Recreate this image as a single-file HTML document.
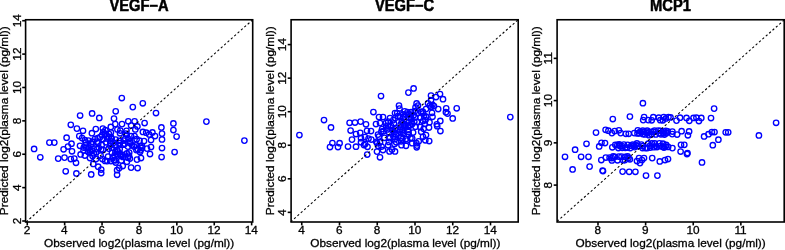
<!DOCTYPE html>
<html><head><meta charset="utf-8"><title>Predicted vs observed plasma levels</title>
<style>html,body{margin:0;padding:0;background:#fff}svg{display:block}text{font-family:"Liberation Sans",Arial,Helvetica,sans-serif;fill:#000;stroke:#000;stroke-width:0.3px}.t{font-size:14.7px;font-weight:bold;text-anchor:middle;stroke-width:0.5px}.l{font-size:11.8px;text-anchor:middle}.m{font-size:11.8px;text-anchor:middle}.k{font-size:11.8px;text-anchor:middle}.b{fill:none;stroke:#000;stroke-width:1.6}.d{stroke:#000;stroke-width:1.05;stroke-dasharray:2.25 2.25}.p circle{fill:none;stroke:#0000ff;stroke-width:1.35}</style></head><body>
<svg width="785" height="250" viewBox="0 0 785 250">
<rect width="785" height="250" fill="#fff"/>
<g>
<g class="p">
<circle cx="121.8" cy="98.0" r="2.7"/>
<circle cx="132.8" cy="107.1" r="2.7"/>
<circle cx="115.7" cy="111.3" r="2.7"/>
<circle cx="92.1" cy="113.4" r="2.7"/>
<circle cx="80.1" cy="115.5" r="2.7"/>
<circle cx="99.3" cy="117.9" r="2.7"/>
<circle cx="114.0" cy="118.6" r="2.7"/>
<circle cx="70.8" cy="124.8" r="2.7"/>
<circle cx="76.9" cy="128.6" r="2.7"/>
<circle cx="83.0" cy="130.8" r="2.7"/>
<circle cx="66.6" cy="137.7" r="2.7"/>
<circle cx="49.4" cy="142.6" r="2.7"/>
<circle cx="54.3" cy="142.6" r="2.7"/>
<circle cx="34.1" cy="148.9" r="2.7"/>
<circle cx="79.3" cy="136.0" r="2.7"/>
<circle cx="82.1" cy="138.1" r="2.7"/>
<circle cx="84.9" cy="140.2" r="2.7"/>
<circle cx="71.5" cy="143.7" r="2.7"/>
<circle cx="68.0" cy="146.5" r="2.7"/>
<circle cx="63.6" cy="149.3" r="2.7"/>
<circle cx="80.0" cy="145.8" r="2.7"/>
<circle cx="86.3" cy="147.9" r="2.7"/>
<circle cx="95.8" cy="129.0" r="2.7"/>
<circle cx="102.8" cy="128.6" r="2.7"/>
<circle cx="110.8" cy="126.9" r="2.7"/>
<circle cx="115.3" cy="124.1" r="2.7"/>
<circle cx="122.0" cy="124.1" r="2.7"/>
<circle cx="128.3" cy="121.3" r="2.7"/>
<circle cx="131.1" cy="125.5" r="2.7"/>
<circle cx="134.6" cy="121.3" r="2.7"/>
<circle cx="91.9" cy="133.2" r="2.7"/>
<circle cx="206.4" cy="121.6" r="2.7"/>
<circle cx="244.4" cy="140.6" r="2.7"/>
<circle cx="40.3" cy="157.3" r="2.7"/>
<circle cx="58.2" cy="158.6" r="2.7"/>
<circle cx="64.5" cy="157.6" r="2.7"/>
<circle cx="72.0" cy="151.3" r="2.7"/>
<circle cx="70.8" cy="159.0" r="2.7"/>
<circle cx="74.3" cy="158.6" r="2.7"/>
<circle cx="76.0" cy="162.8" r="2.7"/>
<circle cx="65.7" cy="171.3" r="2.7"/>
<circle cx="76.4" cy="173.4" r="2.7"/>
<circle cx="91.2" cy="174.4" r="2.7"/>
<circle cx="101.2" cy="169.5" r="2.7"/>
<circle cx="101.2" cy="173.0" r="2.7"/>
<circle cx="98.2" cy="166.7" r="2.7"/>
<circle cx="117.1" cy="174.8" r="2.7"/>
<circle cx="117.1" cy="170.2" r="2.7"/>
<circle cx="80.6" cy="154.4" r="2.7"/>
<circle cx="84.9" cy="155.5" r="2.7"/>
<circle cx="83.5" cy="150.6" r="2.7"/>
<circle cx="93.3" cy="163.9" r="2.7"/>
<circle cx="102.4" cy="159.0" r="2.7"/>
<circle cx="107.3" cy="161.1" r="2.7"/>
<circle cx="115.7" cy="162.5" r="2.7"/>
<circle cx="121.3" cy="160.4" r="2.7"/>
<circle cx="122.7" cy="166.0" r="2.7"/>
<circle cx="126.9" cy="161.8" r="2.7"/>
<circle cx="131.1" cy="167.6" r="2.7"/>
<circle cx="119.2" cy="168.1" r="2.7"/>
<circle cx="122.7" cy="154.8" r="2.7"/>
<circle cx="144.6" cy="123.0" r="2.7"/>
<circle cx="137.4" cy="126.4" r="2.7"/>
<circle cx="135.3" cy="129.4" r="2.7"/>
<circle cx="142.9" cy="131.9" r="2.7"/>
<circle cx="146.2" cy="132.7" r="2.7"/>
<circle cx="149.2" cy="134.4" r="2.7"/>
<circle cx="134.5" cy="136.1" r="2.7"/>
<circle cx="131.1" cy="136.1" r="2.7"/>
<circle cx="142.8" cy="103.3" r="2.7"/>
<circle cx="156.0" cy="113.0" r="2.7"/>
<circle cx="173.4" cy="123.4" r="2.7"/>
<circle cx="173.4" cy="130.0" r="2.7"/>
<circle cx="176.6" cy="136.6" r="2.7"/>
<circle cx="161.4" cy="127.4" r="2.7"/>
<circle cx="162.0" cy="133.6" r="2.7"/>
<circle cx="162.0" cy="139.4" r="2.7"/>
<circle cx="162.0" cy="148.0" r="2.7"/>
<circle cx="174.6" cy="152.0" r="2.7"/>
<circle cx="152.4" cy="132.4" r="2.7"/>
<circle cx="155.0" cy="136.0" r="2.7"/>
<circle cx="151.0" cy="140.0" r="2.7"/>
<circle cx="144.0" cy="141.0" r="2.7"/>
<circle cx="151.0" cy="147.0" r="2.7"/>
<circle cx="147.0" cy="148.6" r="2.7"/>
<circle cx="150.0" cy="154.0" r="2.7"/>
<circle cx="161.6" cy="157.0" r="2.7"/>
<circle cx="141.0" cy="158.0" r="2.7"/>
<circle cx="137.0" cy="159.6" r="2.7"/>
<circle cx="137.6" cy="168.0" r="2.7"/>
<circle cx="90.0" cy="158.0" r="2.7"/>
<circle cx="96.0" cy="159.0" r="2.7"/>
<circle cx="114.0" cy="160.0" r="2.7"/>
<circle cx="129.0" cy="155.6" r="2.7"/>
<circle cx="140.0" cy="152.0" r="2.7"/>
<circle cx="142.0" cy="148.0" r="2.7"/>
<circle cx="120.4" cy="154.2" r="2.7"/>
<circle cx="110.9" cy="161.1" r="2.7"/>
<circle cx="111.1" cy="137.4" r="2.7"/>
<circle cx="117.4" cy="129.4" r="2.7"/>
<circle cx="92.6" cy="156.1" r="2.7"/>
<circle cx="120.0" cy="133.3" r="2.7"/>
<circle cx="115.4" cy="152.0" r="2.7"/>
<circle cx="136.6" cy="139.2" r="2.7"/>
<circle cx="101.1" cy="149.5" r="2.7"/>
<circle cx="123.7" cy="140.5" r="2.7"/>
<circle cx="132.1" cy="145.3" r="2.7"/>
<circle cx="111.9" cy="153.0" r="2.7"/>
<circle cx="128.0" cy="157.7" r="2.7"/>
<circle cx="130.3" cy="141.5" r="2.7"/>
<circle cx="139.5" cy="140.7" r="2.7"/>
<circle cx="114.5" cy="155.4" r="2.7"/>
<circle cx="88.5" cy="140.6" r="2.7"/>
<circle cx="115.7" cy="139.6" r="2.7"/>
<circle cx="97.2" cy="149.2" r="2.7"/>
<circle cx="110.3" cy="143.3" r="2.7"/>
<circle cx="112.6" cy="157.5" r="2.7"/>
<circle cx="120.8" cy="155.8" r="2.7"/>
<circle cx="109.1" cy="134.1" r="2.7"/>
<circle cx="110.2" cy="145.6" r="2.7"/>
<circle cx="111.7" cy="138.9" r="2.7"/>
<circle cx="140.6" cy="150.3" r="2.7"/>
<circle cx="103.3" cy="132.0" r="2.7"/>
<circle cx="129.9" cy="158.5" r="2.7"/>
<circle cx="125.3" cy="138.5" r="2.7"/>
<circle cx="129.2" cy="152.5" r="2.7"/>
<circle cx="83.7" cy="147.6" r="2.7"/>
<circle cx="123.3" cy="144.7" r="2.7"/>
<circle cx="140.4" cy="146.6" r="2.7"/>
<circle cx="126.8" cy="134.8" r="2.7"/>
<circle cx="117.9" cy="151.6" r="2.7"/>
<circle cx="92.6" cy="144.0" r="2.7"/>
<circle cx="96.1" cy="152.3" r="2.7"/>
<circle cx="85.5" cy="145.0" r="2.7"/>
<circle cx="102.0" cy="135.2" r="2.7"/>
<circle cx="119.7" cy="149.1" r="2.7"/>
<circle cx="107.3" cy="138.5" r="2.7"/>
<circle cx="105.4" cy="130.2" r="2.7"/>
<circle cx="88.7" cy="147.5" r="2.7"/>
<circle cx="108.1" cy="156.6" r="2.7"/>
<circle cx="105.2" cy="133.8" r="2.7"/>
<circle cx="119.5" cy="140.9" r="2.7"/>
<circle cx="116.9" cy="149.9" r="2.7"/>
<circle cx="108.9" cy="136.7" r="2.7"/>
<circle cx="137.8" cy="149.3" r="2.7"/>
<circle cx="141.9" cy="145.9" r="2.7"/>
<circle cx="90.3" cy="150.1" r="2.7"/>
<circle cx="100.6" cy="155.6" r="2.7"/>
<circle cx="97.7" cy="138.1" r="2.7"/>
<circle cx="119.5" cy="145.1" r="2.7"/>
<circle cx="128.6" cy="139.2" r="2.7"/>
<circle cx="103.2" cy="139.1" r="2.7"/>
<circle cx="110.9" cy="141.3" r="2.7"/>
<circle cx="108.7" cy="148.6" r="2.7"/>
<circle cx="106.1" cy="142.3" r="2.7"/>
<circle cx="94.8" cy="139.1" r="2.7"/>
<circle cx="124.7" cy="143.7" r="2.7"/>
<circle cx="111.7" cy="147.7" r="2.7"/>
<circle cx="125.7" cy="133.6" r="2.7"/>
<circle cx="119.6" cy="143.1" r="2.7"/>
<circle cx="120.3" cy="130.5" r="2.7"/>
<circle cx="117.5" cy="154.2" r="2.7"/>
<circle cx="91.1" cy="143.7" r="2.7"/>
<circle cx="92.1" cy="150.5" r="2.7"/>
<circle cx="98.8" cy="147.8" r="2.7"/>
<circle cx="128.0" cy="146.6" r="2.7"/>
<circle cx="97.1" cy="141.6" r="2.7"/>
<circle cx="93.8" cy="153.3" r="2.7"/>
<circle cx="88.1" cy="151.7" r="2.7"/>
<circle cx="135.6" cy="145.3" r="2.7"/>
<circle cx="126.5" cy="130.8" r="2.7"/>
<circle cx="122.9" cy="156.9" r="2.7"/>
<circle cx="103.0" cy="149.9" r="2.7"/>
<circle cx="134.1" cy="146.6" r="2.7"/>
<circle cx="136.4" cy="150.1" r="2.7"/>
<circle cx="110.9" cy="132.4" r="2.7"/>
<circle cx="92.5" cy="141.7" r="2.7"/>
<circle cx="100.2" cy="137.0" r="2.7"/>
<circle cx="105.1" cy="160.9" r="2.7"/>
<circle cx="90.1" cy="151.7" r="2.7"/>
<circle cx="101.7" cy="144.9" r="2.7"/>
<circle cx="126.9" cy="153.4" r="2.7"/>
<circle cx="129.8" cy="142.9" r="2.7"/>
<circle cx="86.0" cy="142.5" r="2.7"/>
<circle cx="98.3" cy="142.9" r="2.7"/>
<circle cx="113.5" cy="142.7" r="2.7"/>
<circle cx="115.5" cy="160.3" r="2.7"/>
<circle cx="115.4" cy="145.5" r="2.7"/>
</g>
<line class="d" x1="26.13" y1="222.00" x2="252.70" y2="19.78"/>
<rect class="b" x="25.60" y="19.75" width="227.10" height="202.25"/>
<line class="b" x1="27.25" y1="222.00" x2="27.25" y2="225.40"/>
<line class="b" x1="25.60" y1="221.00" x2="22.20" y2="221.00"/>
<text class="k" x="26.95" y="234.40">2</text>
<text class="k" transform="translate(20.90 221.00) rotate(-90)">2</text>
<line class="b" x1="64.65" y1="222.00" x2="64.65" y2="225.40"/>
<line class="b" x1="25.60" y1="187.62" x2="22.20" y2="187.62"/>
<text class="k" x="64.35" y="234.40">4</text>
<text class="k" transform="translate(20.90 187.62) rotate(-90)">4</text>
<line class="b" x1="102.05" y1="222.00" x2="102.05" y2="225.40"/>
<line class="b" x1="25.60" y1="154.24" x2="22.20" y2="154.24"/>
<text class="k" x="101.75" y="234.40">6</text>
<text class="k" transform="translate(20.90 154.24) rotate(-90)">6</text>
<line class="b" x1="139.45" y1="222.00" x2="139.45" y2="225.40"/>
<line class="b" x1="25.60" y1="120.86" x2="22.20" y2="120.86"/>
<text class="k" x="139.15" y="234.40">8</text>
<text class="k" transform="translate(20.90 120.86) rotate(-90)">8</text>
<line class="b" x1="176.85" y1="222.00" x2="176.85" y2="225.40"/>
<line class="b" x1="25.60" y1="87.48" x2="22.20" y2="87.48"/>
<text class="k" x="176.55" y="234.40">10</text>
<text class="k" transform="translate(20.90 87.48) rotate(-90)">10</text>
<line class="b" x1="214.25" y1="222.00" x2="214.25" y2="225.40"/>
<line class="b" x1="25.60" y1="54.10" x2="22.20" y2="54.10"/>
<text class="k" x="213.95" y="234.40">12</text>
<text class="k" transform="translate(20.90 54.10) rotate(-90)">12</text>
<line class="b" x1="251.65" y1="222.00" x2="251.65" y2="225.40"/>
<line class="b" x1="25.60" y1="20.72" x2="22.20" y2="20.72"/>
<text class="k" x="251.35" y="234.40">14</text>
<text class="k" transform="translate(20.90 20.72) rotate(-90)">14</text>
<text class="t" transform="translate(138.95 10.70) scale(1 1.06)">VEGF−A</text>
<text class="l" x="139.15" y="246.90">Observed log2(plasma level (pg/ml))</text>
<text class="m" transform="translate(8.30 120.75) rotate(-90)">Predicted log2(plasma level (pg/ml))</text>
</g>
<g>
<g class="p">
<circle cx="413.6" cy="88.4" r="2.7"/>
<circle cx="408.4" cy="92.6" r="2.7"/>
<circle cx="381.0" cy="96.0" r="2.7"/>
<circle cx="431.0" cy="95.6" r="2.7"/>
<circle cx="440.0" cy="94.0" r="2.7"/>
<circle cx="436.0" cy="97.0" r="2.7"/>
<circle cx="443.0" cy="99.2" r="2.7"/>
<circle cx="431.0" cy="100.2" r="2.7"/>
<circle cx="416.6" cy="103.4" r="2.7"/>
<circle cx="418.0" cy="105.6" r="2.7"/>
<circle cx="415.5" cy="107.3" r="2.7"/>
<circle cx="399.0" cy="105.6" r="2.7"/>
<circle cx="399.5" cy="108.5" r="2.7"/>
<circle cx="428.0" cy="103.3" r="2.7"/>
<circle cx="432.5" cy="104.8" r="2.7"/>
<circle cx="429.8" cy="105.5" r="2.7"/>
<circle cx="434.0" cy="106.0" r="2.7"/>
<circle cx="426.0" cy="109.0" r="2.7"/>
<circle cx="438.2" cy="109.0" r="2.7"/>
<circle cx="446.2" cy="108.3" r="2.7"/>
<circle cx="447.5" cy="113.6" r="2.7"/>
<circle cx="373.4" cy="112.0" r="2.7"/>
<circle cx="379.0" cy="117.0" r="2.7"/>
<circle cx="383.0" cy="117.0" r="2.7"/>
<circle cx="324.0" cy="120.0" r="2.7"/>
<circle cx="331.0" cy="127.4" r="2.7"/>
<circle cx="349.6" cy="122.8" r="2.7"/>
<circle cx="355.0" cy="122.5" r="2.7"/>
<circle cx="360.6" cy="121.6" r="2.7"/>
<circle cx="366.0" cy="124.3" r="2.7"/>
<circle cx="376.0" cy="124.0" r="2.7"/>
<circle cx="380.0" cy="123.0" r="2.7"/>
<circle cx="386.0" cy="123.0" r="2.7"/>
<circle cx="390.0" cy="118.0" r="2.7"/>
<circle cx="395.0" cy="113.0" r="2.7"/>
<circle cx="397.2" cy="113.0" r="2.7"/>
<circle cx="400.0" cy="117.0" r="2.7"/>
<circle cx="404.7" cy="111.3" r="2.7"/>
<circle cx="407.5" cy="112.0" r="2.7"/>
<circle cx="406.0" cy="114.5" r="2.7"/>
<circle cx="411.0" cy="118.5" r="2.7"/>
<circle cx="415.0" cy="117.2" r="2.7"/>
<circle cx="421.0" cy="111.8" r="2.7"/>
<circle cx="423.0" cy="113.4" r="2.7"/>
<circle cx="432.0" cy="112.8" r="2.7"/>
<circle cx="432.5" cy="116.8" r="2.7"/>
<circle cx="423.0" cy="121.0" r="2.7"/>
<circle cx="429.5" cy="122.2" r="2.7"/>
<circle cx="440.3" cy="120.9" r="2.7"/>
<circle cx="417.0" cy="122.0" r="2.7"/>
<circle cx="409.0" cy="122.0" r="2.7"/>
<circle cx="456.7" cy="108.3" r="2.7"/>
<circle cx="445.9" cy="112.2" r="2.7"/>
<circle cx="452.7" cy="118.4" r="2.7"/>
<circle cx="393.3" cy="120.1" r="2.7"/>
<circle cx="394.0" cy="123.6" r="2.7"/>
<circle cx="414.3" cy="121.5" r="2.7"/>
<circle cx="425.5" cy="120.1" r="2.7"/>
<circle cx="436.8" cy="124.3" r="2.7"/>
<circle cx="424.1" cy="115.9" r="2.7"/>
<circle cx="417.8" cy="113.1" r="2.7"/>
<circle cx="431.2" cy="106.9" r="2.7"/>
<circle cx="422.8" cy="111.6" r="2.7"/>
<circle cx="299.4" cy="135.0" r="2.7"/>
<circle cx="350.6" cy="130.5" r="2.7"/>
<circle cx="356.0" cy="134.0" r="2.7"/>
<circle cx="360.2" cy="132.8" r="2.7"/>
<circle cx="367.0" cy="130.8" r="2.7"/>
<circle cx="352.0" cy="139.6" r="2.7"/>
<circle cx="332.4" cy="143.0" r="2.7"/>
<circle cx="339.6" cy="143.2" r="2.7"/>
<circle cx="330.0" cy="147.0" r="2.7"/>
<circle cx="338.0" cy="147.0" r="2.7"/>
<circle cx="348.0" cy="146.5" r="2.7"/>
<circle cx="356.0" cy="146.7" r="2.7"/>
<circle cx="361.0" cy="142.2" r="2.7"/>
<circle cx="364.0" cy="145.0" r="2.7"/>
<circle cx="367.5" cy="146.8" r="2.7"/>
<circle cx="367.2" cy="154.5" r="2.7"/>
<circle cx="380.0" cy="157.3" r="2.7"/>
<circle cx="377.0" cy="151.6" r="2.7"/>
<circle cx="383.0" cy="150.0" r="2.7"/>
<circle cx="389.5" cy="151.4" r="2.7"/>
<circle cx="395.0" cy="151.4" r="2.7"/>
<circle cx="392.0" cy="149.6" r="2.7"/>
<circle cx="378.3" cy="146.0" r="2.7"/>
<circle cx="394.5" cy="144.0" r="2.7"/>
<circle cx="401.5" cy="145.2" r="2.7"/>
<circle cx="406.0" cy="145.8" r="2.7"/>
<circle cx="412.2" cy="143.2" r="2.7"/>
<circle cx="416.7" cy="147.3" r="2.7"/>
<circle cx="418.7" cy="141.3" r="2.7"/>
<circle cx="425.3" cy="140.3" r="2.7"/>
<circle cx="429.2" cy="141.0" r="2.7"/>
<circle cx="423.0" cy="136.8" r="2.7"/>
<circle cx="426.0" cy="135.0" r="2.7"/>
<circle cx="440.4" cy="131.0" r="2.7"/>
<circle cx="437.2" cy="126.2" r="2.7"/>
<circle cx="429.0" cy="127.5" r="2.7"/>
<circle cx="365.0" cy="137.0" r="2.7"/>
<circle cx="368.5" cy="138.6" r="2.7"/>
<circle cx="371.3" cy="139.5" r="2.7"/>
<circle cx="361.0" cy="138.2" r="2.7"/>
<circle cx="371.0" cy="131.0" r="2.7"/>
<circle cx="365.2" cy="143.9" r="2.7"/>
<circle cx="377.1" cy="143.2" r="2.7"/>
<circle cx="412.2" cy="138.3" r="2.7"/>
<circle cx="405.9" cy="139.0" r="2.7"/>
<circle cx="416.4" cy="143.2" r="2.7"/>
<circle cx="510.3" cy="117.1" r="2.7"/>
<circle cx="417.0" cy="145.6" r="2.7"/>
<circle cx="388.0" cy="125.5" r="2.7"/>
<circle cx="380.0" cy="142.2" r="2.7"/>
<circle cx="402.4" cy="139.2" r="2.7"/>
<circle cx="404.7" cy="124.2" r="2.7"/>
<circle cx="386.1" cy="126.3" r="2.7"/>
<circle cx="396.2" cy="142.3" r="2.7"/>
<circle cx="408.2" cy="130.1" r="2.7"/>
<circle cx="388.9" cy="141.9" r="2.7"/>
<circle cx="393.4" cy="136.4" r="2.7"/>
<circle cx="389.5" cy="138.2" r="2.7"/>
<circle cx="424.8" cy="123.8" r="2.7"/>
<circle cx="401.1" cy="137.7" r="2.7"/>
<circle cx="395.2" cy="118.0" r="2.7"/>
<circle cx="394.8" cy="139.2" r="2.7"/>
<circle cx="405.6" cy="125.6" r="2.7"/>
<circle cx="381.6" cy="146.6" r="2.7"/>
<circle cx="389.1" cy="132.4" r="2.7"/>
<circle cx="376.3" cy="141.8" r="2.7"/>
<circle cx="411.1" cy="112.2" r="2.7"/>
<circle cx="401.2" cy="141.3" r="2.7"/>
<circle cx="400.0" cy="131.7" r="2.7"/>
<circle cx="423.7" cy="128.8" r="2.7"/>
<circle cx="395.6" cy="128.0" r="2.7"/>
<circle cx="381.4" cy="131.7" r="2.7"/>
<circle cx="402.4" cy="131.6" r="2.7"/>
<circle cx="396.0" cy="134.4" r="2.7"/>
<circle cx="412.2" cy="123.9" r="2.7"/>
<circle cx="395.0" cy="129.6" r="2.7"/>
<circle cx="403.2" cy="114.4" r="2.7"/>
<circle cx="382.1" cy="129.1" r="2.7"/>
<circle cx="403.3" cy="117.1" r="2.7"/>
<circle cx="392.1" cy="130.1" r="2.7"/>
<circle cx="400.0" cy="129.6" r="2.7"/>
<circle cx="378.9" cy="136.6" r="2.7"/>
<circle cx="414.8" cy="111.2" r="2.7"/>
<circle cx="426.1" cy="116.7" r="2.7"/>
<circle cx="397.9" cy="116.1" r="2.7"/>
<circle cx="409.1" cy="117.5" r="2.7"/>
<circle cx="388.1" cy="145.3" r="2.7"/>
<circle cx="411.0" cy="115.4" r="2.7"/>
<circle cx="388.1" cy="121.6" r="2.7"/>
<circle cx="387.2" cy="129.4" r="2.7"/>
<circle cx="391.1" cy="126.0" r="2.7"/>
<circle cx="403.0" cy="133.3" r="2.7"/>
<circle cx="420.2" cy="127.0" r="2.7"/>
<circle cx="409.4" cy="114.4" r="2.7"/>
<circle cx="410.2" cy="125.3" r="2.7"/>
<circle cx="383.5" cy="131.2" r="2.7"/>
<circle cx="393.7" cy="132.2" r="2.7"/>
<circle cx="402.5" cy="129.7" r="2.7"/>
<circle cx="384.4" cy="137.8" r="2.7"/>
<circle cx="402.6" cy="123.1" r="2.7"/>
<circle cx="408.7" cy="134.4" r="2.7"/>
<circle cx="401.8" cy="121.1" r="2.7"/>
<circle cx="421.2" cy="131.7" r="2.7"/>
<circle cx="408.0" cy="125.9" r="2.7"/>
<circle cx="411.5" cy="122.3" r="2.7"/>
<circle cx="406.8" cy="140.5" r="2.7"/>
<circle cx="415.5" cy="126.7" r="2.7"/>
<circle cx="400.7" cy="124.6" r="2.7"/>
<circle cx="404.0" cy="126.0" r="2.7"/>
<circle cx="394.8" cy="136.9" r="2.7"/>
<circle cx="378.0" cy="134.6" r="2.7"/>
<circle cx="413.6" cy="115.3" r="2.7"/>
<circle cx="408.4" cy="131.9" r="2.7"/>
<circle cx="413.1" cy="132.5" r="2.7"/>
<circle cx="420.5" cy="117.4" r="2.7"/>
<circle cx="410.5" cy="138.0" r="2.7"/>
</g>
<line class="d" x1="290.70" y1="221.82" x2="517.80" y2="19.98"/>
<rect class="b" x="291.10" y="19.75" width="227.10" height="202.25"/>
<line class="b" x1="301.75" y1="222.00" x2="301.75" y2="225.40"/>
<line class="b" x1="291.10" y1="212.35" x2="287.70" y2="212.35"/>
<text class="k" x="301.45" y="234.40">4</text>
<text class="k" transform="translate(286.40 212.35) rotate(-90)">4</text>
<line class="b" x1="339.50" y1="222.00" x2="339.50" y2="225.40"/>
<line class="b" x1="291.10" y1="178.80" x2="287.70" y2="178.80"/>
<text class="k" x="339.20" y="234.40">6</text>
<text class="k" transform="translate(286.40 178.80) rotate(-90)">6</text>
<line class="b" x1="377.25" y1="222.00" x2="377.25" y2="225.40"/>
<line class="b" x1="291.10" y1="145.25" x2="287.70" y2="145.25"/>
<text class="k" x="376.95" y="234.40">8</text>
<text class="k" transform="translate(286.40 145.25) rotate(-90)">8</text>
<line class="b" x1="415.00" y1="222.00" x2="415.00" y2="225.40"/>
<line class="b" x1="291.10" y1="111.70" x2="287.70" y2="111.70"/>
<text class="k" x="414.70" y="234.40">10</text>
<text class="k" transform="translate(286.40 111.70) rotate(-90)">10</text>
<line class="b" x1="452.75" y1="222.00" x2="452.75" y2="225.40"/>
<line class="b" x1="291.10" y1="78.15" x2="287.70" y2="78.15"/>
<text class="k" x="452.45" y="234.40">12</text>
<text class="k" transform="translate(286.40 78.15) rotate(-90)">12</text>
<line class="b" x1="490.50" y1="222.00" x2="490.50" y2="225.40"/>
<line class="b" x1="291.10" y1="44.60" x2="287.70" y2="44.60"/>
<text class="k" x="490.20" y="234.40">14</text>
<text class="k" transform="translate(286.40 44.60) rotate(-90)">14</text>
<text class="t" transform="translate(404.45 10.70) scale(1 1.06)">VEGF−C</text>
<text class="l" x="405.35" y="246.90">Observed log2(plasma level (pg/ml))</text>
<text class="m" transform="translate(273.80 120.75) rotate(-90)">Predicted log2(plasma level (pg/ml))</text>
</g>
<g>
<g class="p">
<circle cx="642.9" cy="103.2" r="2.7"/>
<circle cx="629.9" cy="116.6" r="2.7"/>
<circle cx="612.8" cy="119.0" r="2.7"/>
<circle cx="714.1" cy="108.6" r="2.7"/>
<circle cx="711.0" cy="118.0" r="2.7"/>
<circle cx="776.1" cy="122.8" r="2.7"/>
<circle cx="644.1" cy="117.0" r="2.7"/>
<circle cx="643.2" cy="120.1" r="2.7"/>
<circle cx="648.3" cy="120.1" r="2.7"/>
<circle cx="653.3" cy="117.2" r="2.7"/>
<circle cx="651.7" cy="120.3" r="2.7"/>
<circle cx="658.8" cy="117.7" r="2.7"/>
<circle cx="660.3" cy="120.2" r="2.7"/>
<circle cx="663.8" cy="117.1" r="2.7"/>
<circle cx="662.9" cy="120.3" r="2.7"/>
<circle cx="665.9" cy="118.4" r="2.7"/>
<circle cx="668.5" cy="117.1" r="2.7"/>
<circle cx="670.5" cy="117.4" r="2.7"/>
<circle cx="676.5" cy="120.6" r="2.7"/>
<circle cx="680.0" cy="117.7" r="2.7"/>
<circle cx="686.5" cy="117.9" r="2.7"/>
<circle cx="689.3" cy="120.8" r="2.7"/>
<circle cx="693.5" cy="117.9" r="2.7"/>
<circle cx="696.4" cy="117.7" r="2.7"/>
<circle cx="698.9" cy="121.0" r="2.7"/>
<circle cx="701.3" cy="117.9" r="2.7"/>
<circle cx="596.0" cy="132.6" r="2.7"/>
<circle cx="605.6" cy="129.8" r="2.7"/>
<circle cx="608.4" cy="130.7" r="2.7"/>
<circle cx="611.9" cy="133.1" r="2.7"/>
<circle cx="614.7" cy="131.0" r="2.7"/>
<circle cx="618.9" cy="130.3" r="2.7"/>
<circle cx="620.7" cy="133.1" r="2.7"/>
<circle cx="625.9" cy="133.8" r="2.7"/>
<circle cx="628.7" cy="133.8" r="2.7"/>
<circle cx="634.3" cy="133.1" r="2.7"/>
<circle cx="637.8" cy="130.3" r="2.7"/>
<circle cx="649.0" cy="135.2" r="2.7"/>
<circle cx="664.5" cy="134.5" r="2.7"/>
<circle cx="672.4" cy="131.5" r="2.7"/>
<circle cx="667.6" cy="131.4" r="2.7"/>
<circle cx="672.2" cy="134.1" r="2.7"/>
<circle cx="677.1" cy="134.5" r="2.7"/>
<circle cx="681.6" cy="131.2" r="2.7"/>
<circle cx="689.1" cy="131.4" r="2.7"/>
<circle cx="687.9" cy="135.3" r="2.7"/>
<circle cx="704.1" cy="136.4" r="2.7"/>
<circle cx="708.5" cy="134.2" r="2.7"/>
<circle cx="711.9" cy="132.0" r="2.7"/>
<circle cx="714.5" cy="132.0" r="2.7"/>
<circle cx="725.7" cy="132.3" r="2.7"/>
<circle cx="728.2" cy="132.3" r="2.7"/>
<circle cx="758.9" cy="135.4" r="2.7"/>
<circle cx="718.4" cy="139.7" r="2.7"/>
<circle cx="712.8" cy="145.2" r="2.7"/>
<circle cx="586.5" cy="143.8" r="2.7"/>
<circle cx="575.1" cy="149.7" r="2.7"/>
<circle cx="599.2" cy="146.4" r="2.7"/>
<circle cx="601.5" cy="142.8" r="2.7"/>
<circle cx="605.0" cy="143.0" r="2.7"/>
<circle cx="612.3" cy="147.3" r="2.7"/>
<circle cx="668.1" cy="146.9" r="2.7"/>
<circle cx="672.4" cy="148.1" r="2.7"/>
<circle cx="681.0" cy="144.8" r="2.7"/>
<circle cx="684.3" cy="144.8" r="2.7"/>
<circle cx="680.6" cy="151.5" r="2.7"/>
<circle cx="687.5" cy="153.0" r="2.7"/>
<circle cx="565.0" cy="156.8" r="2.7"/>
<circle cx="581.1" cy="156.8" r="2.7"/>
<circle cx="588.5" cy="156.8" r="2.7"/>
<circle cx="601.3" cy="160.0" r="2.7"/>
<circle cx="605.8" cy="157.5" r="2.7"/>
<circle cx="609.6" cy="157.5" r="2.7"/>
<circle cx="637.0" cy="161.0" r="2.7"/>
<circle cx="640.0" cy="163.1" r="2.7"/>
<circle cx="642.0" cy="160.0" r="2.7"/>
<circle cx="644.0" cy="158.0" r="2.7"/>
<circle cx="639.0" cy="158.0" r="2.7"/>
<circle cx="652.2" cy="158.1" r="2.7"/>
<circle cx="659.8" cy="161.4" r="2.7"/>
<circle cx="665.0" cy="160.0" r="2.7"/>
<circle cx="668.0" cy="159.0" r="2.7"/>
<circle cx="702.0" cy="162.4" r="2.7"/>
<circle cx="687.0" cy="154.0" r="2.7"/>
<circle cx="572.6" cy="169.4" r="2.7"/>
<circle cx="589.6" cy="166.6" r="2.7"/>
<circle cx="603.0" cy="171.0" r="2.7"/>
<circle cx="602.6" cy="170.6" r="2.7"/>
<circle cx="622.6" cy="171.6" r="2.7"/>
<circle cx="629.2" cy="171.8" r="2.7"/>
<circle cx="635.4" cy="171.8" r="2.7"/>
<circle cx="646.0" cy="175.6" r="2.7"/>
<circle cx="657.4" cy="175.6" r="2.7"/>
<circle cx="649.2" cy="132.1" r="2.7"/>
<circle cx="659.1" cy="133.1" r="2.7"/>
<circle cx="660.4" cy="130.8" r="2.7"/>
<circle cx="658.2" cy="130.6" r="2.7"/>
<circle cx="642.0" cy="132.1" r="2.7"/>
<circle cx="647.2" cy="133.3" r="2.7"/>
<circle cx="655.8" cy="134.4" r="2.7"/>
<circle cx="663.9" cy="131.5" r="2.7"/>
<circle cx="647.2" cy="130.7" r="2.7"/>
<circle cx="642.8" cy="130.5" r="2.7"/>
<circle cx="651.7" cy="134.2" r="2.7"/>
<circle cx="661.0" cy="134.3" r="2.7"/>
<circle cx="640.2" cy="131.6" r="2.7"/>
<circle cx="645.0" cy="134.4" r="2.7"/>
<circle cx="651.3" cy="131.8" r="2.7"/>
<circle cx="653.4" cy="131.7" r="2.7"/>
<circle cx="642.8" cy="134.1" r="2.7"/>
<circle cx="663.4" cy="133.3" r="2.7"/>
<circle cx="639.1" cy="133.3" r="2.7"/>
<circle cx="637.5" cy="133.4" r="2.7"/>
<circle cx="665.9" cy="130.8" r="2.7"/>
<circle cx="666.3" cy="133.2" r="2.7"/>
<circle cx="654.5" cy="130.5" r="2.7"/>
<circle cx="644.1" cy="131.5" r="2.7"/>
<circle cx="648.3" cy="143.7" r="2.7"/>
<circle cx="627.7" cy="144.8" r="2.7"/>
<circle cx="650.2" cy="147.6" r="2.7"/>
<circle cx="636.9" cy="143.4" r="2.7"/>
<circle cx="627.1" cy="147.5" r="2.7"/>
<circle cx="625.3" cy="147.8" r="2.7"/>
<circle cx="638.4" cy="146.0" r="2.7"/>
<circle cx="615.3" cy="144.8" r="2.7"/>
<circle cx="632.7" cy="144.5" r="2.7"/>
<circle cx="654.7" cy="143.4" r="2.7"/>
<circle cx="620.0" cy="145.9" r="2.7"/>
<circle cx="657.0" cy="147.0" r="2.7"/>
<circle cx="665.6" cy="146.7" r="2.7"/>
<circle cx="630.2" cy="148.0" r="2.7"/>
<circle cx="617.4" cy="144.9" r="2.7"/>
<circle cx="666.2" cy="144.9" r="2.7"/>
<circle cx="634.8" cy="147.1" r="2.7"/>
<circle cx="634.0" cy="145.7" r="2.7"/>
<circle cx="623.9" cy="144.5" r="2.7"/>
<circle cx="618.4" cy="148.0" r="2.7"/>
<circle cx="662.6" cy="146.8" r="2.7"/>
<circle cx="622.3" cy="147.8" r="2.7"/>
<circle cx="653.8" cy="147.2" r="2.7"/>
<circle cx="635.8" cy="145.0" r="2.7"/>
<circle cx="642.5" cy="148.0" r="2.7"/>
<circle cx="642.9" cy="146.0" r="2.7"/>
<circle cx="660.3" cy="146.0" r="2.7"/>
<circle cx="641.4" cy="144.5" r="2.7"/>
<circle cx="663.0" cy="143.7" r="2.7"/>
<circle cx="651.8" cy="143.4" r="2.7"/>
<circle cx="659.5" cy="143.3" r="2.7"/>
<circle cx="655.8" cy="145.8" r="2.7"/>
<circle cx="645.4" cy="148.1" r="2.7"/>
<circle cx="619.2" cy="144.4" r="2.7"/>
<circle cx="664.0" cy="147.6" r="2.7"/>
<circle cx="631.3" cy="145.7" r="2.7"/>
<circle cx="649.9" cy="145.8" r="2.7"/>
<circle cx="647.3" cy="148.1" r="2.7"/>
<circle cx="621.9" cy="146.0" r="2.7"/>
<circle cx="611.8" cy="158.0" r="2.7"/>
<circle cx="618.8" cy="156.6" r="2.7"/>
<circle cx="621.5" cy="156.6" r="2.7"/>
<circle cx="623.1" cy="160.2" r="2.7"/>
<circle cx="628.5" cy="157.9" r="2.7"/>
<circle cx="614.9" cy="156.8" r="2.7"/>
<circle cx="613.2" cy="156.4" r="2.7"/>
<circle cx="624.9" cy="160.1" r="2.7"/>
<circle cx="625.1" cy="156.9" r="2.7"/>
<circle cx="629.9" cy="159.3" r="2.7"/>
<circle cx="611.9" cy="160.4" r="2.7"/>
<circle cx="617.5" cy="160.3" r="2.7"/>
<circle cx="627.6" cy="156.4" r="2.7"/>
</g>
<line class="d" x1="557.10" y1="221.39" x2="784.20" y2="19.90"/>
<rect class="b" x="557.10" y="19.75" width="227.10" height="202.25"/>
<line class="b" x1="598.00" y1="222.00" x2="598.00" y2="225.40"/>
<line class="b" x1="557.10" y1="185.10" x2="553.70" y2="185.10"/>
<text class="k" x="597.70" y="234.40">8</text>
<text class="k" transform="translate(552.40 185.10) rotate(-90)">8</text>
<line class="b" x1="645.62" y1="222.00" x2="645.62" y2="225.40"/>
<line class="b" x1="557.10" y1="142.85" x2="553.70" y2="142.85"/>
<text class="k" x="645.32" y="234.40">9</text>
<text class="k" transform="translate(552.40 142.85) rotate(-90)">9</text>
<line class="b" x1="693.24" y1="222.00" x2="693.24" y2="225.40"/>
<line class="b" x1="557.10" y1="100.60" x2="553.70" y2="100.60"/>
<text class="k" x="692.94" y="234.40">10</text>
<text class="k" transform="translate(552.40 100.60) rotate(-90)">10</text>
<line class="b" x1="740.86" y1="222.00" x2="740.86" y2="225.40"/>
<line class="b" x1="557.10" y1="58.35" x2="553.70" y2="58.35"/>
<text class="k" x="740.56" y="234.40">11</text>
<text class="k" transform="translate(552.40 58.35) rotate(-90)">11</text>
<text class="t" transform="translate(670.45 10.70) scale(1 1.06)">MCP1</text>
<text class="l" x="670.65" y="246.90">Observed log2(plasma level (pg/ml))</text>
<text class="m" transform="translate(539.80 120.75) rotate(-90)">Predicted log2(plasma level (pg/ml))</text>
</g>
</svg></body></html>
